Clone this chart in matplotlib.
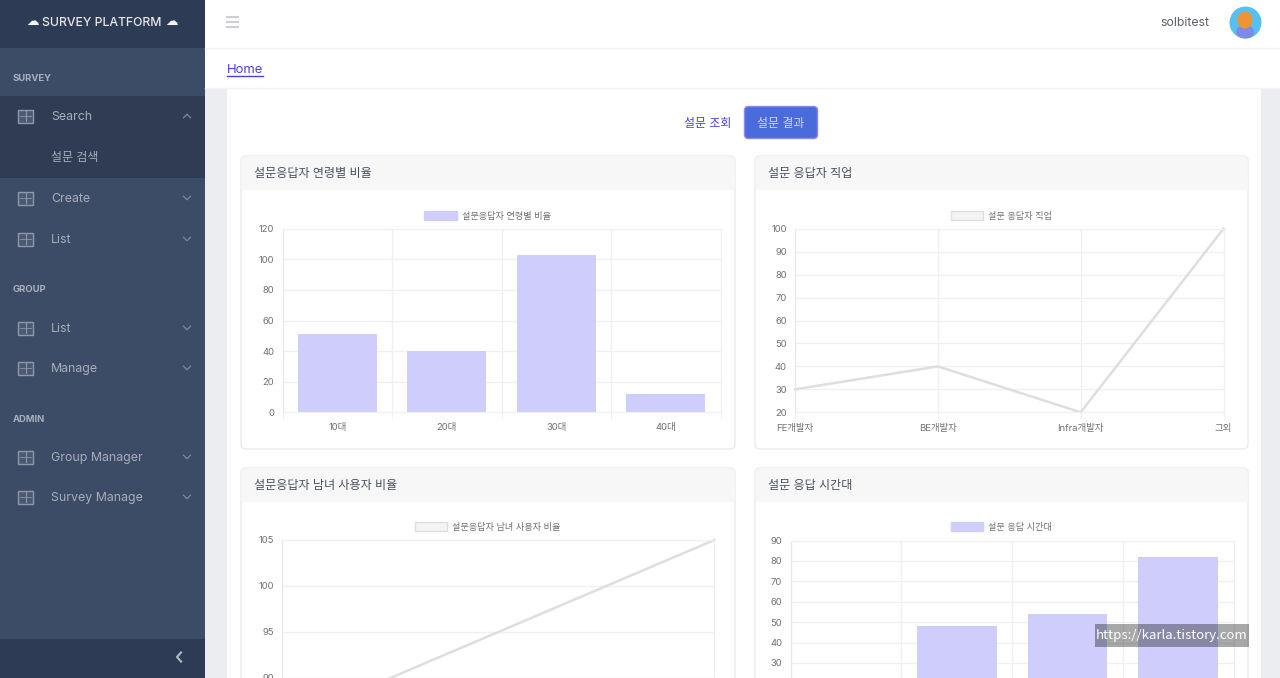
import numpy as np
from matplotlib import pyplot as plt
from matplotlib.patches import Rectangle, FancyBboxPatch, Circle, Patch, Ellipse

plt.rcParams['font.family'] = ['Inter', 'Noto Sans CJK KR', 'DejaVu Sans']

# chart values
age_labels = ['10대', '20대', '30대', '40대']
age_values = [51, 40, 103, 12]
job_labels = ['FE개발자', 'BE개발자', 'Infra개발자', '그외']
job_values = [30, 40, 20, 100]
gender_values = [85, 105]
time_values = [0, 48, 54, 82]

age_title = '설문응답자 연령별 비율'
job_title = '설문 응답자 직업'
gender_title = '설문응답자 남녀 사용자 비율'
time_title = '설문 응답 시간대'

W, H = 1280, 678
BAR = '#cfcdfc'
LINE = '#dedede'
GRID = '#f0f0f0'
TICK = '#707070'

fig = plt.figure(figsize=(W / 100, H / 100), dpi=100, facecolor='white')

bg = fig.add_axes([0, 0, 1, 1], zorder=0)
bg.set_xlim(0, W)
bg.set_ylim(H, 0)
bg.axis('off')


def box(x0, y0, x1, y1, color, **kw):
    bg.add_patch(Rectangle((x0, y0), x1 - x0, y1 - y0, facecolor=color, edgecolor='none', **kw))


def label(x, y, s, size=9, color='#aeb5c1', ha='left', **kw):
    # text sits a bit high with va=center, so push it down
    bg.text(x, y + 1.2, s, fontsize=size, color=color, ha=ha, va='center', **kw)


# page background
box(205, 88, 1280, 678, '#ebedf0')
box(227, 88, 1261, 678, '#ffffff')
bg.plot([205, 1280], [47.5, 47.5], color='#f3f4f5', lw=1)
bg.plot([205, 1280], [88, 88], color='#f3f4f5', lw=1)

# sidebar
box(0, 0, 205, 678, '#3c4b66')
box(0, 0, 205, 48, '#2e3b54')
box(0, 96, 205, 178, '#2f3c54')
box(0, 639, 205, 678, '#2e3b54')
label(102, 21.5, 'SURVEY PLATFORM', size=8.8, color='#e8eaee', ha='center', fontweight='medium')
label(32.5, 20.5, '☁', size=9, color='#f2f3f5', ha='center', family='DejaVu Sans')
label(171.5, 20.5, '☁', size=9, color='#f2f3f5', ha='center', family='DejaVu Sans')

for y, s in [(77, 'SURVEY'), (288, 'GROUP'), (418, 'ADMIN')]:
    label(12.5, y, s, size=6.8, color='#a8b0bc', fontweight='bold')

menu = [(116, 'Search', True), (198, 'Create', False), (239, 'List', False),
        (328, 'List', False), (368, 'Manage', False),
        (457, 'Group Manager', False), (497, 'Survey Manage', False)]
for y, s, is_open in menu:
    label(51, y - 0.5, s, size=8.9, color='#a7aebb')
    bg.add_patch(Rectangle((18, y - 6.5), 15, 13, facecolor='#4b5a73', edgecolor='#8f98a8', lw=1))
    bg.plot([25.5, 25.5], [y - 5, y + 5], color='#8f98a8', lw=0.8)
    bg.plot([20, 31], [y, y], color='#8f98a8', lw=0.6)
    d = -1.8 if is_open else 1.8
    bg.plot([183.5, 187, 190.5], [y - d, y + d, y - d], color='#7d899d', lw=0.9)
label(51, 157, '설문 검색', size=8.6, color='#a7aebb')
bg.plot([181, 177, 181], [652.5, 657, 661.5], color='#aeb5c1', lw=1.6)

# top bar
for y in [17, 22, 27]:
    bg.plot([227, 238], [y, y], color='#ccced3', lw=1.5)
label(1160, 21.5, 'solbitest', size=8.8, color='#5c6068')
ring = Circle((1245.5, 22.5), 16, facecolor='#58c0ee', edgecolor='none')
bg.add_patch(ring)
body = Ellipse((1245, 32), 18, 14, facecolor='#7c8be8', edgecolor='none')
bg.add_patch(body)
body.set_clip_path(ring)
bg.add_patch(Ellipse((1245, 20), 15, 17, facecolor='#ef9431', edgecolor='none'))
label(227, 68.5, 'Home', size=9.4, color='#4a3fe0')
bg.plot([227, 262.5], [75.5, 75.5], color='#4a3fe0', lw=1)

# buttons
label(708, 122.5, '설문 조회', size=8.6, color='#4a3fe0', ha='center')
bg.add_patch(FancyBboxPatch((746, 108), 70, 29, boxstyle='round,pad=1.5,rounding_size=4',
                            facecolor='#4a6bdc', edgecolor='#8f86ee', lw=1))
label(781, 122.5, '설문 결과', size=8.6, color='#d6d5fb', ha='center')

# card frames
for x0, x1, y0, y1, s in [(241, 735, 156, 449, age_title), (755, 1248, 156, 449, job_title),
                          (241, 735, 468, 700, gender_title), (755, 1248, 468, 700, time_title)]:
    bg.add_patch(FancyBboxPatch((x0, y0), x1 - x0, y1 - y0, boxstyle='round,pad=0,rounding_size=5',
                                facecolor='white', edgecolor='#e9ebee', lw=1))
    bg.add_patch(FancyBboxPatch((x0 + 0.5, y0 + 0.5), x1 - x0 - 1, 33.5, boxstyle='round,pad=0,rounding_size=4',
                                facecolor='#f7f7f8', edgecolor='none'))
    box(x0 + 0.5, y0 + 20, x1 - 0.5, y0 + 34, '#f7f7f8')
    label(x0 + 13.5, y0 + 17, s, size=8.7, color='#474f5d', fontweight='medium')


def chart(x0, x1, ytop, ybot, ylim, yticks, xticks):
    ax = fig.add_axes([x0 / W, 1 - ybot / H, (x1 - x0) / W, (ybot - ytop) / H], zorder=1)
    ax.patch.set_alpha(0)
    ax.set_xlim(*xticks[[0, -1]])
    ax.set_ylim(*ylim)
    ax.set_yticks(yticks)
    ax.set_xticks(xticks)
    ax.grid(True, color=GRID, lw=1)
    ax.set_axisbelow(True)
    ax.tick_params(axis='y', length=0, pad=6, labelsize=6.8, labelcolor=TICK)
    ax.tick_params(axis='x', length=5, color=GRID, labelbottom=False)
    for sp in ax.spines.values():
        sp.set_color(GRID)
    ax.spines['left'].set_color('#e8e8e8')
    return ax


def legend(ax, cx, cy, s, face, edge):
    ax.legend(handles=[Patch(facecolor=face, edgecolor=edge, label=s)], loc='center',
              bbox_to_anchor=(cx, cy), bbox_transform=bg.transData, frameon=False,
              fontsize=6.6, labelcolor='#707070', handlelength=3.5, handleheight=1.1,
              handletextpad=0.55, borderpad=0, borderaxespad=0)


band = np.arange(5) - 0.5
positions = np.arange(4)

# age bars
ax = chart(282.5, 720.7, 228.7, 412.3, (0, 120), np.arange(0, 121, 20), band)
ax.bar(positions, age_values, width=0.72, color=BAR)
ax.set_xticks(positions, age_labels, minor=True)
ax.tick_params(axis='x', which='minor', length=0, pad=7.5, labelsize=6.8, labelcolor=TICK, labelbottom=True)
legend(ax, 487.5, 216, age_title, BAR, BAR)

# job line
ax = chart(795, 1223.5, 228.7, 412.3, (20, 100), np.arange(20, 101, 10), positions.astype(float))
ax.plot(positions, job_values, color=LINE, lw=1.8, clip_on=False)
ax.set_xticks(positions, job_labels)
ax.tick_params(axis='x', pad=3.5, labelsize=6.8, labelcolor=TICK, labelbottom=True)
legend(ax, 1001, 216, job_title, '#f4f4f4', LINE)

# gender line, runs off the bottom of the page
ax = chart(282.3, 714.3, 540, 724, (85, 105), [90, 95, 100, 105], np.arange(2.0))
ax.plot(np.arange(2), gender_values, color=LINE, lw=1.8, clip_on=False)
legend(ax, 487.5, 527, gender_title, '#f4f4f4', LINE)

# time bars, runs off the bottom of the page
ax = chart(790.6, 1233.5, 540.5, 724.1, (0, 90), np.arange(30, 91, 10), band)
ax.bar(positions, time_values, width=0.72, color=BAR)
legend(ax, 1001.5, 527, time_title, BAR, BAR)

# watermark
top = fig.add_axes([0, 0, 1, 1], zorder=2)
top.set_xlim(0, W)
top.set_ylim(H, 0)
top.axis('off')
top.add_patch(Rectangle((1095, 624), 154, 23, facecolor='black', alpha=0.34, edgecolor='none'))
top.text(1172, 636, 'https://karla.tistory.com', color='white', fontsize=9.5, ha='center', va='center',
         family='Noto Sans CJK KR')

fig.savefig('out.png', dpi=100)
